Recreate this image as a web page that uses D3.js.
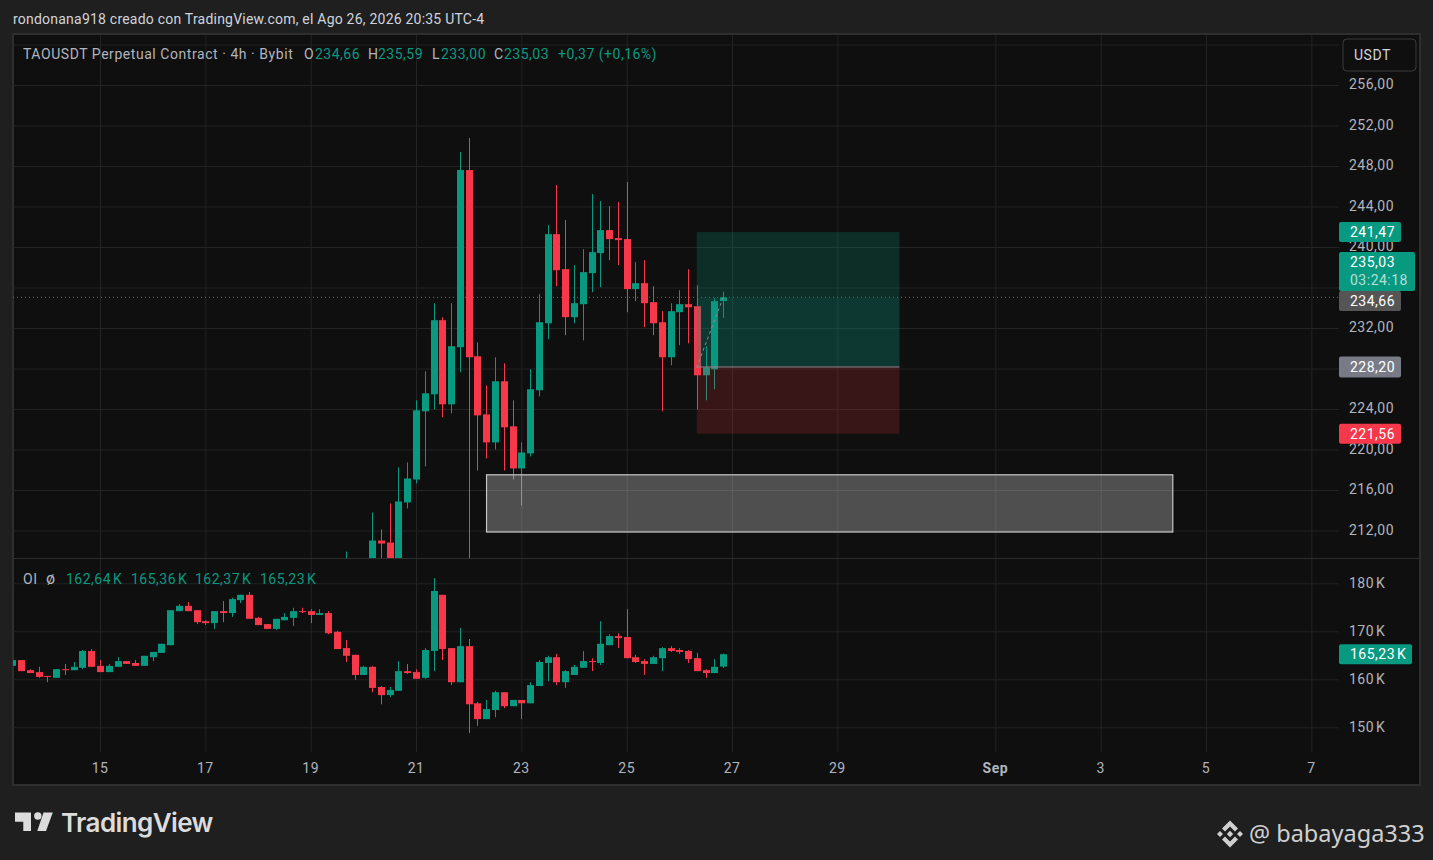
<!DOCTYPE html>
<html>
<head>
<meta charset="utf-8">
<script src="https://cdn.jsdelivr.net/npm/d3@7"></script>
<style>
  html, body { margin: 0; padding: 0; background: #1f1f1f; overflow: hidden; }
  svg { display: block; }
  text { font-family: "Roboto", sans-serif; letter-spacing: 0.5px; }
  .grid line { stroke: #232323; stroke-width: 1; }
  .grid path { display: none; }
  .axis path, .axis line { display: none; }
  .axis text { fill: #b2b5be; font-size: 14px; font-family: "Roboto", sans-serif; }
</style>
</head>
<body>
<div id="chart"></div>
<script>
//set the width and height of the svg
var width = 1433;
var height = 860;

//candles are 4h, day numbers run on past 31 into September
var candlesPerDay = 6;
var firstCandleDay = 15 - 10 / candlesPerDay;
var priceSkip = 38; //price candles start this many candles after the OI ones

//price candles
var priceOpen = [208, 208.5, 208, 208.9, 211.01, 210.81, 208.6, 214.77, 217.04, 223.77, 225.45, 232.77, 224.46, 230.10, 247.60, 229.21, 223.47, 220.70, 226.74, 222.29, 218.13, 219.62, 225.85, 232.47, 241.27, 237.81, 233.07, 234.35, 237.42, 239.40, 241.67, 240.88, 240.78, 235.84, 236.43, 234.55, 232.57, 229.11, 233.56, 234.35, 234.15, 227.33, 227.92, 234.66];
var priceHigh = [209.92, 209, 209.1, 213.78, 212.10, 214.67, 218.23, 218.73, 224.86, 227.73, 234.45, 233.07, 234.45, 249.38, 250.77, 230.59, 226.34, 229.11, 228.52, 224.86, 220.70, 227.92, 235.34, 242.16, 246.12, 242.66, 238.21, 239.79, 245.23, 244.54, 244.04, 244.44, 246.42, 238.51, 238.70, 236.13, 233.66, 234.45, 235.74, 237.81, 236.23, 230.20, 234.95, 235.59];
var priceLow = [207.5, 207, 207.5, 208.3, 208.5, 207.5, 208, 214.18, 216.65, 218.33, 223.97, 223.18, 223.57, 227.63, 208, 217.93, 219.12, 220.01, 217.93, 217.04, 214.47, 219.32, 225.25, 230.89, 236.13, 231.29, 232.47, 230.79, 235.54, 236.03, 238.70, 238.21, 233.56, 234.65, 232.08, 231.29, 223.77, 228.32, 230.30, 230.49, 223.97, 224.86, 225.95, 233.00];
var priceClose = [208.9, 208.2, 208.9, 211.01, 210.71, 208.5, 214.87, 217.14, 223.87, 225.55, 232.77, 224.46, 230.20, 247.60, 229.11, 223.37, 220.70, 226.74, 222.19, 218.13, 219.71, 225.95, 232.57, 241.27, 237.71, 233.07, 234.45, 237.52, 239.49, 241.67, 240.78, 240.68, 235.84, 236.43, 234.45, 232.47, 229.11, 233.66, 234.35, 234.05, 227.33, 228.12, 234.65, 235.03];

//open interest candles, in thousands
var oiOpen = [162.8, 164.0, 161.9, 161.5, 160.7, 160.3, 162.1, 161.9, 162.4, 165.9, 162.8, 161.5, 162.6, 163.8, 163.4, 162.8, 164.6, 165.5, 167.1, 174.2, 175.3, 174.4, 172.1, 171.7, 174.2, 173.8, 176.5, 177.6, 172.8, 171.5, 170.5, 172.3, 172.8, 174.2, 174.2, 173.4, 173.8, 169.9, 166.5, 165.1, 160.9, 162.6, 158.4, 156.7, 157.6, 161.7, 161.5, 160.3, 165.9, 177.6, 166.5, 159.4, 166.9, 155.0, 151.7, 153.6, 157.3, 154.4, 155.7, 155.0, 158.6, 163.4, 164.6, 159.4, 160.9, 162.4, 163.8, 163.4, 167.1, 169.0, 168.8, 164.6, 163.8, 163.2, 164.4, 166.5, 166.1, 165.9, 164.4, 161.9, 161.3, 162.64];
var oiHigh = [164.0, 164.0, 162.1, 162.6, 160.7, 162.1, 163.2, 163.6, 166.1, 166.3, 164.0, 163.2, 164.6, 163.8, 164.0, 164.9, 165.7, 167.4, 174.4, 175.7, 176.1, 174.4, 172.3, 174.2, 176.3, 177.0, 177.6, 178.2, 173.0, 171.5, 172.6, 173.8, 174.9, 174.9, 174.6, 174.6, 174.2, 170.1, 168.2, 165.1, 162.8, 162.8, 158.6, 158.4, 163.8, 163.2, 162.1, 166.5, 181.1, 177.6, 166.5, 170.7, 168.4, 155.3, 155.7, 157.6, 157.3, 155.7, 155.7, 159.4, 164.0, 164.9, 165.3, 161.9, 163.0, 165.9, 164.4, 172.1, 169.4, 169.6, 174.6, 165.1, 164.2, 164.9, 166.7, 166.9, 166.5, 166.1, 165.5, 162.1, 164.2, 165.36];
var oiLow = [162.8, 161.7, 161.3, 160.3, 159.4, 160.3, 160.9, 161.9, 162.1, 162.6, 161.5, 161.5, 162.6, 163.2, 162.8, 162.8, 163.8, 165.5, 167.1, 174.2, 174.2, 171.5, 171.3, 170.5, 171.9, 173.0, 175.9, 172.6, 171.3, 170.5, 170.3, 172.3, 171.1, 173.8, 171.7, 173.4, 169.4, 166.3, 163.6, 159.9, 160.9, 157.3, 154.8, 156.3, 157.6, 161.1, 160.1, 160.1, 161.7, 164.0, 158.8, 159.4, 148.8, 150.3, 151.7, 152.1, 154.0, 154.4, 151.7, 155.0, 158.6, 159.6, 158.8, 158.2, 160.9, 162.4, 161.7, 163.0, 167.1, 166.5, 164.4, 163.4, 160.9, 163.2, 161.7, 165.7, 165.3, 163.4, 161.7, 160.3, 161.3, 162.37];
var oiClose = [164.0, 161.7, 161.3, 160.5, 160.5, 162.1, 161.9, 162.6, 165.9, 162.6, 161.5, 162.8, 163.8, 163.2, 162.8, 164.9, 165.7, 167.4, 174.4, 175.3, 174.2, 171.9, 171.7, 174.2, 173.8, 176.7, 177.6, 172.6, 171.3, 170.5, 172.6, 173.0, 174.2, 174.0, 173.4, 173.8, 169.6, 166.3, 164.9, 160.9, 162.6, 158.2, 156.7, 157.8, 161.7, 161.3, 160.1, 166.1, 178.4, 166.3, 159.4, 166.9, 154.8, 151.7, 153.8, 157.3, 154.4, 155.7, 155.0, 158.8, 163.6, 164.6, 159.4, 161.7, 162.6, 163.8, 163.6, 167.4, 169.0, 168.6, 164.4, 163.6, 163.2, 164.6, 166.5, 165.9, 165.7, 164.2, 161.7, 161.3, 162.6, 165.23];

//ticks
var priceGridTicks = [260, 256, 252, 248, 244, 240, 236, 232, 228, 224, 220, 216, 212];
var priceLabelTicks = [256, 252, 248, 244, 240, 232, 224, 220, 216, 212];
var oiTicks = [180, 170, 160, 150];
var dayTicks = [15, 17, 19, 21, 23, 25, 27, 29, 32, 34, 36, 38];
var dayLabels = ["15", "17", "19", "21", "23", "25", "27", "29", "Sep", "3", "5", "7"];

//drawing tools on the chart
var takeProfit = 241.47;
var entryPrice = 228.20;
var stopLoss = 221.56;
var lastOpen = 234.66;
var lastClose = 235.03;
var positionStartDay = 26.33;
var positionEndDay = 30.18;
var zoneTop = 217.5;
var zoneBottom = 211.85;
var zoneStartDay = 22.33;
var zoneEndDay = 35.36;
var lastOi = 165.23;

//panes of the chart
var frame = {left: 13, right: 1420, top: 34, bottom: 785};
var axisLeft = 1339;
var pricePane = {top: 35, bottom: 558};
var oiPane = {top: 559, bottom: 752};

var GREEN = "#089981";
var RED = "#f7374a";
var GREY = "#b2b5be";

//comma decimals as on the original
var locale = d3.formatLocale({decimal: ",", thousands: ".", grouping: [3], currency: ["", ""]});
var fmt2 = locale.format(".2f");
var HAIR = "\u200a";

var svg = d3.select("#chart").append("svg")
            .attr("width", width)
            .attr("height", height);

var xScale = d3.scaleLinear().domain([15, 27]).range([100, 732]);
var yPrice = d3.scaleLinear().domain([248, 212]).range([166, 530.5]);
var yOi = d3.scaleLinear().domain([180, 150]).range([583.3, 727.3]);

//background and frame
svg.append("rect").attr("width", width).attr("height", height).attr("fill", "#1f1f1f");
svg.append("rect")
   .attr("x", frame.left).attr("y", frame.top)
   .attr("width", frame.right - frame.left).attr("height", frame.bottom - frame.top)
   .attr("fill", "#0f0f0f")
   .attr("stroke", "#2e2e2e")
   .attr("stroke-width", 2);

//clip for the panes
var defs = svg.append("defs");
defs.append("clipPath").attr("id", "clipPrice").append("rect")
    .attr("x", frame.left).attr("y", pricePane.top)
    .attr("width", axisLeft - frame.left).attr("height", pricePane.bottom - pricePane.top);
defs.append("clipPath").attr("id", "clipOi").append("rect")
    .attr("x", frame.left).attr("y", oiPane.top)
    .attr("width", axisLeft - frame.left).attr("height", oiPane.bottom - oiPane.top);

//vertical gridlines
svg.append("g")
   .attr("class", "grid")
   .attr("transform", "translate(0," + oiPane.bottom + ")")
   .call(d3.axisBottom(xScale).tickValues(dayTicks)
           .tickSize(pricePane.top - oiPane.bottom).tickFormat(""));

//horizontal gridlines for both panes
svg.append("g")
   .attr("class", "grid")
   .attr("transform", "translate(" + frame.left + ",0)")
   .call(d3.axisRight(yPrice).tickValues(priceGridTicks)
           .tickSize(axisLeft - frame.left).tickFormat(""));
svg.append("g")
   .attr("class", "grid")
   .attr("transform", "translate(" + frame.left + ",0)")
   .call(d3.axisRight(yOi).tickValues(oiTicks)
           .tickSize(axisLeft - frame.left).tickFormat(""));

//pane separator
svg.append("line")
   .attr("x1", frame.left).attr("x2", frame.right)
   .attr("y1", pricePane.bottom + 0.5).attr("y2", pricePane.bottom + 0.5)
   .attr("stroke", "#2e2e2e");

//draw a candle series into a clipped group
function drawCandles(clipId, skip, open, high, low, close, yScale) {
  var rows = open.map(function(d, i) {
    return {day: firstCandleDay + (i + skip) / candlesPerDay,
            o: d, h: high[i], l: low[i], c: close[i]};
  });
  var g = svg.append("g").attr("clip-path", "url(#" + clipId + ")");
  var candles = g.selectAll("g").data(rows).enter().append("g")
                 .attr("fill", function(d) { return d.c >= d.o ? GREEN : RED; });
  candles.append("rect")
         .attr("x", function(d) { return Math.round(xScale(d.day)); })
         .attr("width", 1)
         .attr("y", function(d) { return yScale(d.h); })
         .attr("height", function(d) { return yScale(d.l) - yScale(d.h); });
  candles.append("rect")
         .attr("x", function(d) { return Math.round(xScale(d.day)) - 3; })
         .attr("width", 7)
         .attr("y", function(d) { return yScale(Math.max(d.o, d.c)); })
         .attr("height", function(d) { return Math.max(1, Math.abs(yScale(d.o) - yScale(d.c))); });
}

drawCandles("clipPrice", priceSkip, priceOpen, priceHigh, priceLow, priceClose, yPrice);
drawCandles("clipOi", 0, oiOpen, oiHigh, oiLow, oiClose, yOi);

//long position tool
var toolX = xScale(positionStartDay);
var toolW = xScale(positionEndDay) - toolX;
svg.append("rect").attr("x", toolX).attr("width", toolW)
   .attr("y", yPrice(takeProfit)).attr("height", yPrice(lastClose) - yPrice(takeProfit))
   .attr("fill", "#089981").attr("fill-opacity", 0.22);
svg.append("rect").attr("x", toolX).attr("width", toolW)
   .attr("y", yPrice(lastClose)).attr("height", yPrice(entryPrice) - yPrice(lastClose))
   .attr("fill", "#089981").attr("fill-opacity", 0.3);
svg.append("rect").attr("x", toolX).attr("width", toolW)
   .attr("y", yPrice(entryPrice)).attr("height", yPrice(stopLoss) - yPrice(entryPrice))
   .attr("fill", "#f23645").attr("fill-opacity", 0.18);
svg.append("line")
   .attr("x1", toolX).attr("x2", toolX + toolW)
   .attr("y1", yPrice(entryPrice) + 0.5).attr("y2", yPrice(entryPrice) + 0.5)
   .attr("stroke", "#8a8d96");
svg.append("line")
   .attr("x1", toolX).attr("y1", yPrice(entryPrice) + 1)
   .attr("x2", xScale(firstCandleDay + 81 / candlesPerDay)).attr("y2", yPrice(lastClose))
   .attr("stroke", "#8a8d96").attr("stroke-dasharray", "3 3");

//grey zone
svg.append("rect")
   .attr("x", xScale(zoneStartDay) + 0.5)
   .attr("width", xScale(zoneEndDay) - xScale(zoneStartDay))
   .attr("y", yPrice(zoneTop))
   .attr("height", yPrice(zoneBottom) - yPrice(zoneTop))
   .attr("fill", "#ffffff").attr("fill-opacity", 0.27)
   .attr("stroke", "#c8c8c8").attr("stroke-width", 1.2);

//last open dotted line
svg.append("line")
   .attr("x1", frame.left).attr("x2", axisLeft)
   .attr("y1", yPrice(lastClose)).attr("y2", yPrice(lastClose))
   .attr("stroke", GREEN).attr("stroke-dasharray", "1 3");

//axes
svg.append("g").attr("class", "axis")
   .attr("transform", "translate(1340,-0.5)")
   .call(d3.axisRight(yPrice).tickValues(priceLabelTicks).tickSize(0).tickPadding(9).tickFormat(fmt2));
svg.append("g").attr("class", "axis")
   .attr("transform", "translate(1340,0)")
   .call(d3.axisRight(yOi).tickValues(oiTicks).tickSize(0).tickPadding(9)
           .tickFormat(function(d) { return d + HAIR + "K"; }));
var timeAxis = svg.append("g").attr("class", "axis")
   .attr("transform", "translate(-0.5,760)")
   .call(d3.axisBottom(xScale).tickValues(dayTicks).tickSize(0).tickPadding(3)
           .tickFormat(function(d) { return dayLabels[dayTicks.indexOf(d)]; }));
timeAxis.selectAll("text").style("font-weight", function(d) { return d === 32 ? "bold" : null; });

//price badges on the axis
function badge(y, h, w, fill, label, sub) {
  svg.append("rect").attr("x", axisLeft).attr("y", y - h / 2).attr("width", w).attr("height", h)
     .attr("rx", 2).attr("fill", fill);
  svg.append("text").attr("x", axisLeft + 11).attr("y", sub ? y - 4.5 : y + 5)
     .attr("fill", "#ffffff").style("font-size", "14px").text(label);
  if (sub) {
    svg.append("text").attr("x", axisLeft + 11).attr("y", y + 13.5)
       .attr("fill", "#ffffff").attr("fill-opacity", 0.7).style("font-size", "14px").text(sub);
  }
}
badge(yPrice(takeProfit), 20, 62, GREEN, fmt2(takeProfit));
badge(yPrice(stopLoss), 20, 62, RED, fmt2(stopLoss));
badge(yPrice(entryPrice) + 0.5, 21, 62, "#787b86", fmt2(entryPrice));
badge(yPrice(lastOpen), 20, 62, "#555555", fmt2(lastOpen));
badge(271.5, 39, 76, GREEN, fmt2(lastClose), "03:24:18");
badge(yOi(lastOi), 20, 73, GREEN, fmt2(lastOi) + HAIR + "K");

//currency button
svg.append("rect").attr("x", 1343).attr("y", 39).attr("width", 73).attr("height", 32)
   .attr("rx", 4).attr("fill", "#0f0f0f").attr("stroke", "#3a3a3a");
svg.append("text").attr("x", 1354).attr("y", 60).attr("fill", "#d1d4dc")
   .style("font-size", "14px").text("USDT");

//header and legends
svg.append("text").attr("x", 13).attr("y", 24).attr("fill", "#d1d4dc")
   .style("font-size", "14px").style("letter-spacing", "0.22px")
   .text("rondonana918 creado con TradingView.com, el Ago 26, 2026 20:35 UTC-4");

function legendText(x, y, str, fill) {
  return svg.append("text").attr("x", x).attr("y", y).attr("fill", fill)
            .style("font-size", "14px").text(str);
}
legendText(23, 59, "TAOUSDT Perpetual Contract · 4h · Bybit", GREY).style("letter-spacing", "0.55px");
legendText(304, 59, "O", GREY);
legendText(315, 59, fmt2(priceOpen[priceOpen.length - 1]), GREEN);
legendText(368, 59, "H", GREY);
legendText(378, 59, fmt2(priceHigh[priceHigh.length - 1]), GREEN);
legendText(432, 59, "L", GREY);
legendText(441, 59, fmt2(priceLow[priceLow.length - 1]), GREEN);
legendText(494, 59, "C", GREY);
legendText(504, 59, fmt2(priceClose[priceClose.length - 1]), GREEN);
legendText(558, 59, "+0,37 (+0,16%)", GREEN);

legendText(23, 584, "OI", GREY);
legendText(46, 584, "ø", GREY).style("font-size", "16px");
legendText(66, 584, fmt2(oiOpen[oiOpen.length - 1]) + HAIR + "K", GREEN);
legendText(131, 584, fmt2(oiHigh[oiHigh.length - 1]) + HAIR + "K", GREEN);
legendText(195, 584, fmt2(oiLow[oiLow.length - 1]) + HAIR + "K", GREEN);
legendText(260, 584, fmt2(oiClose[oiClose.length - 1]) + HAIR + "K", GREEN);

//TradingView logo
var logo = svg.append("g").attr("fill", "#dcdcdc");
logo.append("path").attr("d", "M15 812.5H31V831H23.3V821.7H15Z");
logo.append("circle").attr("cx", 37.8).attr("cy", 816).attr("r", 3.7);
logo.append("path").attr("d", "M43.5 812.5H52.8L46 831H37.3Z");
svg.append("text").attr("x", 61).attr("y", 832).attr("fill", "#dcdcdc")
   .style("font-size", "26px").style("font-weight", "600")
   .style("font-family", "Inter, sans-serif").style("letter-spacing", "-0.6px").text("TradingView");

//watermark
var mark = svg.append("g").attr("fill", "#d0d0d0").attr("transform", "translate(1230,834)");
mark.append("path").attr("d", "M0 -13.5L8 -5.5L5 -2.5L0 -7.5L-5 -2.5L-8 -5.5Z");
mark.append("path").attr("d", "M0 13.5L8 5.5L5 2.5L0 7.5L-5 2.5L-8 5.5Z");
mark.append("path").attr("d", "M0 -3.2L3.2 0L0 3.2L-3.2 0Z");
mark.append("path").attr("d", "M-10 -3L-7 0L-10 3L-13 0Z");
mark.append("path").attr("d", "M10 -3L13 0L10 3L7 0Z");
svg.append("text").attr("x", 1249).attr("y", 842).attr("fill", "#d0d0d0")
   .style("font-size", "23.5px").style("font-family", "'Noto Sans', sans-serif")
   .style("letter-spacing", "0").text("@ babayaga333");
</script>
</body>
</html>
